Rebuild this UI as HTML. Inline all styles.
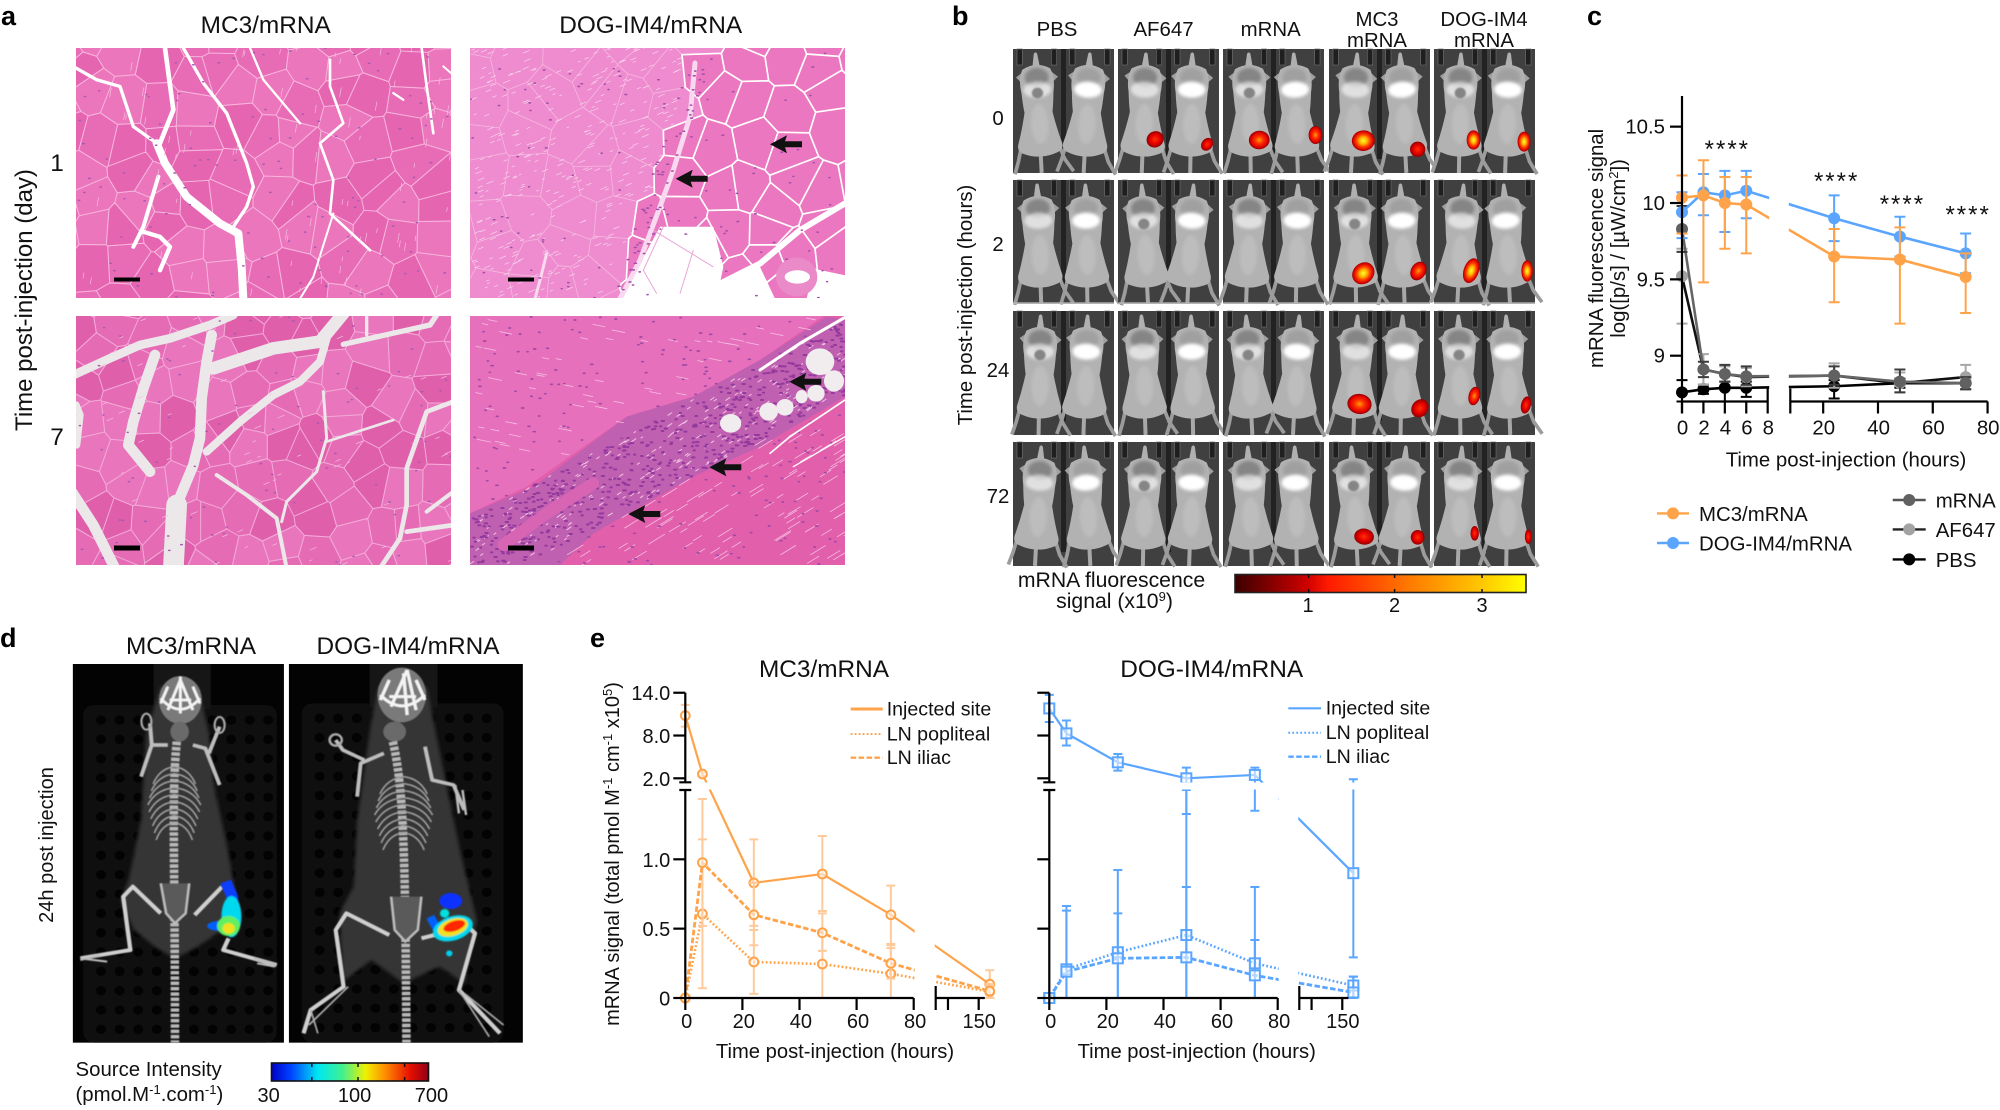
<!DOCTYPE html>
<html lang="en">
<head>
<meta charset="utf-8">
<title>mRNA expression figure</title>
<style>
html,body{margin:0;padding:0;background:#fff;}
svg{display:block;}
text{font-family:"Liberation Sans",Arial,sans-serif;fill:#111;}
.pl{font-size:27px;font-weight:700;fill:#000;}
.t24{font-size:24.4px;}
.t20{font-size:20.4px;}
.m{text-anchor:middle;}
.e{text-anchor:end;}
</style>
</head>
<body>
<svg id="fig" xmlns="http://www.w3.org/2000/svg" width="2000" height="1110" viewBox="0 0 2000 1110">
<defs>
<filter id="b1" x="-10%" y="-10%" width="120%" height="120%"><feGaussianBlur stdDeviation="1.2"/></filter>
<filter id="b2" x="-30%" y="-30%" width="160%" height="160%"><feGaussianBlur stdDeviation="2"/></filter>
<filter id="b4" x="-40%" y="-40%" width="180%" height="180%"><feGaussianBlur stdDeviation="5"/></filter>
<filter id="b8" x="-50%" y="-50%" width="200%" height="200%"><feGaussianBlur stdDeviation="10"/></filter>
<radialGradient id="hotY"><stop offset="0" stop-color="#ffff30"/><stop offset=".35" stop-color="#ffb000"/><stop offset=".62" stop-color="#ff3a00"/><stop offset=".9" stop-color="#d00000"/><stop offset="1" stop-color="#a00000"/></radialGradient>
<radialGradient id="hotO"><stop offset="0" stop-color="#ffa000"/><stop offset=".4" stop-color="#ff3000"/><stop offset=".8" stop-color="#e00000"/><stop offset="1" stop-color="#8a0000"/></radialGradient>
<radialGradient id="hotR"><stop offset="0" stop-color="#ff3000"/><stop offset=".55" stop-color="#e80000"/><stop offset="1" stop-color="#900000"/></radialGradient>
<linearGradient id="cbB"><stop offset="0" stop-color="#3a0000"/><stop offset=".25" stop-color="#d00000"/><stop offset=".32" stop-color="#ff1a00"/><stop offset=".6" stop-color="#ff7a00"/><stop offset=".85" stop-color="#ffc800"/><stop offset="1" stop-color="#ffff00"/></linearGradient>
<linearGradient id="cbD"><stop offset="0" stop-color="#0000c8"/><stop offset=".12" stop-color="#0040ff"/><stop offset=".3" stop-color="#00e8f0"/><stop offset=".45" stop-color="#40f090"/><stop offset=".6" stop-color="#f0f000"/><stop offset=".72" stop-color="#ff9000"/><stop offset=".88" stop-color="#e81000"/><stop offset="1" stop-color="#900018"/></linearGradient>
</defs>
<rect width="2000" height="1110" fill="#fff"/>

<!-- PANEL LETTERS -->
<text class="pl" x="1" y="25">a</text>
<text class="pl" x="952" y="25">b</text>
<text class="pl" x="1587" y="25">c</text>
<text class="pl" x="0" y="647">d</text>
<text class="pl" x="590" y="647">e</text>

<!-- PANEL A -->
<text class="t24 m" x="265.7" y="33">MC3/mRNA</text>
<text class="t24 m" x="650.7" y="33">DOG-IM4/mRNA</text>
<text class="t24 m" x="57" y="171">1</text>
<text class="t24 m" x="57" y="445">7</text>
<text class="m" font-size="24" transform="translate(32,300) rotate(-90)">Time post-injection (day)</text>

<svg id="t1" x="76" y="48" width="375" height="250" viewBox="228 145 1125 748" preserveAspectRatio="none"></svg>
<svg id="t2" x="76" y="316" width="375" height="249" viewBox="48 33 1125 747" preserveAspectRatio="none"></svg>
<svg id="t3" x="470" y="48" width="375" height="250" viewBox="30 145 1125 748" preserveAspectRatio="none"></svg>
<svg id="t4" x="470" y="316" width="375" height="249" viewBox="30 48 1125 747" preserveAspectRatio="none"></svg>
<g fill="#000">
<rect x="114" y="277.5" width="26" height="4"/>
<rect x="508" y="277.5" width="26" height="4"/>
<rect x="114" y="545.5" width="26" height="5"/>
<rect x="508" y="545.5" width="26" height="5"/>
</g>
<g id="arrows" fill="#111"></g>

<!-- PANEL B -->
<g id="bTiles"></g>
<g id="bBlobs" transform="translate(950,0) scale(.3827,.3333)"></g>
<g font-size="20.4" text-anchor="middle">
<text x="1057" y="36">PBS</text>
<text x="1163.5" y="36">AF647</text>
<text x="1270.7" y="36">mRNA</text>
<text x="1377" y="26">MC3</text>
<text x="1377" y="47">mRNA</text>
<text x="1484" y="26">DOG-IM4</text>
<text x="1484" y="47">mRNA</text>
</g>
<g font-size="20.4" text-anchor="middle">
<text x="998" y="125">0</text>
<text x="998" y="251">2</text>
<text x="998" y="377">24</text>
<text x="998" y="503">72</text>
</g>
<text class="m" font-size="20.4" transform="translate(972,305) rotate(-90)">Time post-injection (hours)</text>
<text class="m" font-size="21.2" x="1111.5" y="587">mRNA fluorescence</text>
<text class="m" font-size="21.2" x="1114.5" y="608">signal (x10<tspan font-size="13" dy="-7">9</tspan><tspan dy="7">)</tspan></text>
<rect x="1235" y="574.5" width="291" height="18" fill="url(#cbB)" stroke="#222" stroke-width="1.6"/>
<g stroke="#111" stroke-width="1.5">
<path d="M1308.6 574v4M1308.6 593v-4M1394.6 574v4M1394.6 593v-4M1482 574v4M1482 593v-4" fill="none"/>
</g>
<g font-size="20" text-anchor="middle">
<text x="1308" y="612">1</text>
<text x="1394.6" y="612">2</text>
<text x="1482" y="612">3</text>
</g>

<!-- PANEL C -->
<g id="chartC"></g>
<text class="m t20" transform="translate(1603,248.4) rotate(-90)">mRNA fluorescence signal</text>
<text class="m t20" transform="translate(1625,248.4) rotate(-90)">log([p/s] / [µW/cm<tspan font-size="13" dy="-7">2</tspan><tspan dy="7">])</tspan></text>
<text class="m t20" x="1846" y="466.5">Time post-injection (hours)</text>

<!-- PANEL D -->
<text class="m t24" x="191" y="654">MC3/mRNA</text>
<text class="m t24" x="408" y="654">DOG-IM4/mRNA</text>
<text class="m" font-size="20" transform="translate(53,845) rotate(-90)">24h post injection</text>
<g id="dImages" transform="translate(0,620) scale(.35714,.33333)"></g>
<text font-size="20.4" x="75.5" y="1076">Source Intensity</text>
<text font-size="20.4" x="75.5" y="1101">(pmol.M<tspan font-size="13" dy="-7">-1</tspan><tspan dy="7">.com</tspan><tspan font-size="13" dy="-7">-1</tspan><tspan dy="7">)</tspan></text>
<rect x="271.5" y="1063" width="157" height="18" fill="url(#cbD)" stroke="#111" stroke-width="1.6"/>
<path d="M311.8 1063v4M311.8 1081v-4M358 1063v4M358 1081v-4M404.6 1063v4M404.6 1081v-4" stroke="#111" stroke-width="1.5" fill="none"/>
<g font-size="20" text-anchor="middle">
<text x="268.6" y="1102">30</text>
<text x="354.6" y="1102">100</text>
<text x="431.4" y="1102">700</text>
</g>

<!-- PANEL E -->
<g id="chartE1"></g>
<g id="chartE2"></g>
<text class="m t24" x="824" y="677">MC3/mRNA</text>
<text class="m t24" x="1211.7" y="677">DOG-IM4/mRNA</text>
<text class="m" font-size="20" transform="translate(619,854) rotate(-90)">mRNA signal (total pmol M<tspan font-size="13" dy="-7">-1</tspan><tspan dy="7"> cm</tspan><tspan font-size="13" dy="-7">-1</tspan><tspan dy="7"> x10</tspan><tspan font-size="13" dy="-7">5</tspan><tspan dy="7">)</tspan></text>
<text class="m" font-size="20.2" x="835" y="1058">Time post-injection (hours)</text>
<text class="m" font-size="20.2" x="1196.7" y="1058">Time post-injection (hours)</text>
</svg>

<script>
/* ---------- PANEL C DATA ---------- */
const cHours = [0, 2, 4, 6, 24, 48, 72];
const cMC3 = [10.035, 10.05, 10.0, 9.99, 9.65, 9.63, 9.515];
const cMC3Up = [10.18, 10.28, 10.17, 10.17, 9.83, 9.84, 9.67];
const cMC3Lo = [9.80, 9.48, 9.70, 9.67, 9.35, 9.21, 9.28];
const cDOG = [9.94, 10.07, 10.05, 10.08, 9.90, 9.78, 9.67];
const cDOGUp = [10.07, 10.19, 10.21, 10.21, 10.05, 9.91, 9.80];
const cDOGLo = [9.77, 9.92, 9.81, 9.90, 9.75, 9.65, 9.54];
const cRNA = [9.83, 8.91, 8.88, 8.865, 8.87, 8.83, 8.82];
const cRNAUp = [9.98, 8.96, 8.94, 8.93, 8.93, 8.91, 8.86];
const cRNALo = [9.68, 8.86, 8.83, 8.81, 8.81, 8.76, 8.78];
const cAF = [9.52, 8.91, 8.88, 8.86, 8.87, 8.82, 8.86];
const cAFUp = [9.70, 9.01, 8.93, 8.92, 8.95, 8.89, 8.94];
const cAFLo = [9.21, 8.81, 8.83, 8.80, 8.79, 8.76, 8.78];
const cPBS = [8.76, 8.78, 8.79, 8.79, 8.80, 8.82, 8.82];
const cPBSUp = [8.84, 8.81, 8.83, 8.83, 8.84, 8.85, 8.86];
const cPBSLo = [8.70, 8.75, 8.70, 8.73, 8.72, 8.79, 8.78];
const cYTicks = [9, 9.5, 10, 10.5];
const cYLabels = ['9', '9.5', '10', '10.5'];
const cXLeftTicks = [0, 2, 4, 6, 8];
const cXRightTicks = [8, 20, 40, 60, 80];
const cXRightLabels = ['', '20', '40', '60', '80'];
const cStarHours = [4, 24, 48, 72];
const cStarValues = [10.38, 10.17, 10.02, 9.95];

/* ---------- PANEL E DATA ---------- */
const eHours = [0, 6, 24, 48, 72, 168];
const mcInjected = [10.8, 2.6, 0.83, 0.894, 0.60, 0.10];
const mcInjectedUp = [12.3, 2.85, 1.144, 1.168, 0.81, 0.20];
const mcInjectedLo = [9.24, 2.35, 0.52, 0.627, 0.39, 0.0];
const mcPopliteal = [0, 0.606, 0.26, 0.245, 0.175, 0.045];
const mcPoplitealUp = [0, 1.144, 0.49, 0.49, 0.38, 0.09];
const mcPoplitealLo = [0, 0.07, 0.03, 0, 0, 0];
const mcIliac = [0, 0.976, 0.60, 0.47, 0.25, 0.05];
const mcIliacUp = [0, 1.435, 0.83, 0.61, 0.36, 0.10];
const mcIliacLo = [0, 0.52, 0.38, 0.34, 0.14, 0];
const dogInjected = [11.8, 8.3, 4.24, 2.0, 2.47, 0.90];
const dogInjectedUp = [13.7, 10.1, 5.4, 3.5, 3.5, 1.86];
const dogInjectedLo = [9.9, 6.6, 3.07, 1.327, 1.35, 0.293];
const dogPopliteal = [0, 0.207, 0.33, 0.454, 0.25, 0.09];
const dogPoplitealUp = [0, 0.663, 0.923, 1.5, 0.80, 0.154];
const dogPoplitealLo = [0, 0, 0, 0, 0, 0];
const dogIliac = [0, 0.19, 0.286, 0.293, 0.163, 0.04];
const dogIliacUp = [0, 0.63, 0.61, 0.80, 0.418, 0.154];
const dogIliacLo = [0, 0, 0, 0, 0, 0];
const eYTicks = [14, 8, 2, 1, 0.5, 0];
const eYLabels = ['14.0', '8.0', '2.0', '1.0', '0.5', '0'];
const eXLeftTicks = [0, 20, 40, 60, 80];
const eXLeftLabels = ['0', '20', '40', '60', '80'];
const eXRightTicks = [80, 100, 150];
const eXRightLabels = ['', '', '150'];

/* ---------- helpers ---------- */
const NS = 'http://www.w3.org/2000/svg';
function mk(tag, attrs, parent) {
  const n = document.createElementNS(NS, tag);
  for (const k in attrs) n.setAttribute(k, attrs[k]);
  if (parent) parent.appendChild(n);
  return n;
}
let seed = 12345;
function rnd() { seed = (seed * 1664525 + 1013904223) % 4294967296; return seed / 4294967296; }

/* ---------- CHART C ---------- */
const cGroup = document.getElementById('chartC');
function cXl(h) { return 1682 + h * 10.71; }
function cXr(h) { return 1790.3 + (h - 8) * 2.74; }
function cX(h) { return h <= 8 ? cXl(h) : cXr(h); }
function cY(v) { return 355.7 - (v - 9) * 152.7; }

function drawCSeries(name, mean, up, lo, lineCol, barCol, dotCol) {
  const g = mk('g', {}, cGroup);
  
  
  const line = mk('polyline', { points: cHours.map((h, i) => cX(h) + ',' + cY(mean[i])).join(' '), fill: 'none', stroke: lineCol, 'stroke-width': 2.6 }, g);
  
  
  cHours.forEach((h, i) => {
    const x = cX(h);
    const bar = mk('path', { d: 'M' + x + ' ' + cY(up[i]) + 'V' + cY(lo[i]) + 'M' + (x - 5.5) + ' ' + cY(up[i]) + 'h11M' + (x - 5.5) + ' ' + cY(lo[i]) + 'h11', fill: 'none', stroke: barCol, 'stroke-width': 2 }, g);
    
    
  });
  cHours.forEach((h, i) => {
    const dot = mk('circle', { cx: cX(h), cy: cY(mean[i]), r: 6, fill: dotCol }, g);
    
    
  });
}
drawCSeries('pbs-series', cPBS, cPBSUp, cPBSLo, '#000', '#000', '#000');
drawCSeries('af647-series', cAF, cAFUp, cAFLo, '#111', '#a8a8a8', '#a3a3a3');
drawCSeries('mrna-series', cRNA, cRNAUp, cRNALo, '#666', '#3c3c3c', '#616161');
drawCSeries('dog-im4-series', cDOG, cDOGUp, cDOGLo, '#5aa5ff', '#5aa5ff', '#5aa5ff');
drawCSeries('mc3-series', cMC3, cMC3Up, cMC3Lo, '#ffa34a', '#ffa34a', '#ffa34a');

const cGap = mk('rect', { x: cXl(8) + 1.5, y: 90, width: cXr(8) - cXl(8) - 3, height: 320, fill: '#fff' }, cGroup);



const cAxisY = mk('path', { d: 'M' + cXl(0) + ' 96V' + (cY(8.7) + 12), stroke: '#000', 'stroke-width': 2.2, fill: 'none' }, cGroup);


const cAxisX1 = mk('path', { d: 'M' + cXl(0) + ' ' + cY(8.7) + 'H' + cXl(8), stroke: '#000', 'stroke-width': 2.2, fill: 'none' }, cGroup);


const cAxisX2 = mk('path', { d: 'M' + cXr(8) + ' ' + cY(8.7) + 'H' + cXr(80), stroke: '#000', 'stroke-width': 2.2, fill: 'none' }, cGroup);



cYTicks.forEach((v, i) => {
  const t = mk('path', { d: 'M' + (cXl(0) - 12) + ' ' + cY(v) + 'H' + cXl(0), stroke: '#000', 'stroke-width': 2.2 }, cGroup);
  
  
  const l = mk('text', { x: cXl(0) - 17, y: cY(v) + 7, 'text-anchor': 'end', 'font-size': 20.4 }, cGroup);
  l.textContent = cYLabels[i];
  
  
});
cXLeftTicks.forEach((h) => {
  const t = mk('path', { d: 'M' + cXl(h) + ' ' + (cY(8.7) - (h === 8 ? 13 : 0)) + 'V' + (cY(8.7) + 12), stroke: '#000', 'stroke-width': 2.2 }, cGroup);
  
  
  const l = mk('text', { x: cXl(h) + 0.6, y: 434.5, 'text-anchor': 'middle', 'font-size': 20.4 }, cGroup);
  l.textContent = String(h);
  
  
});
cXRightTicks.forEach((h, i) => {
  const t = mk('path', { d: 'M' + cXr(h) + ' ' + (cY(8.7) - (i === 0 ? 13 : 0)) + 'V' + (cY(8.7) + 12), stroke: '#000', 'stroke-width': 2.2 }, cGroup);
  
  
  const l = mk('text', { x: cXr(h) + 0.6, y: 434.5, 'text-anchor': 'middle', 'font-size': 20.4 }, cGroup);
  l.textContent = cXRightLabels[i];
  
  
});
cStarHours.forEach((h, i) => {
  const s = mk('text', { x: cX(h) + 2.5, y: cY(cStarValues[i]) + 12, 'text-anchor': 'middle', 'font-size': 24, 'letter-spacing': 2 }, cGroup);
  s.textContent = '****';
  
  
});

function cLegend(x1, x2, y, lineCol, dotCol, tx, label) {
  const g = mk('g', {}, cGroup);
  
  
  const l = mk('path', { d: 'M' + x1 + ' ' + y + 'H' + x2, stroke: lineCol, 'stroke-width': 2.4 }, g);
  
  
  const d = mk('circle', { cx: (x1 + x2) / 2, cy: y, r: 6, fill: dotCol }, g);
  
  
  const t = mk('text', { x: tx, y: y + 7.5, 'font-size': 20.4 }, g);
  t.textContent = label;
  
  
}
cLegend(1657, 1689, 513.4, '#ffa34a', '#ffa34a', 1699, 'MC3/mRNA');
cLegend(1657, 1689, 543, '#5aa5ff', '#5aa5ff', 1699, 'DOG-IM4/mRNA');
cLegend(1892.7, 1925.7, 500, '#555', '#616161', 1935.7, 'mRNA');
cLegend(1892.7, 1925.7, 529.4, '#222', '#a3a3a3', 1935.7, 'AF647');
cLegend(1892.7, 1925.7, 559.4, '#000', '#000', 1935.7, 'PBS');

/* ---------- CHART E ---------- */
function eY(v) { return v >= 1.6 ? 778.3 - (v - 2) * 7.13 : 998 - v * 138.7; }
const DOT = '1.8 2.2';
const DASH = '5.5 2.4';

function drawE(groupId, x0, xb, seriesList, color, barColor, square, tickLabelsOn, lx1, lx2, ltx, legendYs) {
  const G = document.getElementById(groupId);
  const xl = (h) => x0 + h * 2.855;
  const xr = (h) => xb + (h - 80) * 0.614;
  const xf = (h) => (h <= 80 ? xl(h) : xr(h));
  seriesList.forEach((s) => {
    const g = mk('g', {}, G);
    
    
    eHours.forEach((h, i) => {
      const x = xf(h);
      const bar = mk('path', { d: 'M' + x + ' ' + eY(s.up[i]) + 'V' + eY(s.lo[i]) + 'M' + (x - 4.5) + ' ' + eY(s.up[i]) + 'h9M' + (x - 4.5) + ' ' + eY(s.lo[i]) + 'h9', fill: 'none', stroke: barColor, 'stroke-width': 2 }, g);
      
      
    });
    const attrs = { points: eHours.map((h, i) => xf(h) + ',' + eY(s.mean[i])).join(' '), fill: 'none', stroke: color, 'stroke-width': s.w };
    if (s.dash) attrs['stroke-dasharray'] = s.dash;
    const line = mk('polyline', attrs, g);
    
    
    eHours.forEach((h, i) => {
      const x = xf(h), y = eY(s.mean[i]);
      const m = square
        ? mk('rect', { x: x - 5, y: y - 5, width: 10, height: 10, fill: '#fff', 'fill-opacity': 0.55, stroke: color, 'stroke-width': 2 }, g)
        : mk('circle', { cx: x, cy: y, r: 4.4, fill: '#fff', 'fill-opacity': 0.55, stroke: color, 'stroke-width': 2 }, g);
      
      
    });
  });
  const band = mk('rect', { x: x0 - 3, y: 782.5, width: 320, height: 7, fill: '#fff' }, G);
  
  
  const gap = mk('rect', { x: xl(80) + 1, y: 690, width: xb - xl(80) - 2, height: 305, fill: '#fff' }, G);
  
  
  const notch = mk('rect', { x: xl(80) - 14, y: 782.5, width: 15, height: 17, fill: '#fff' }, G);
  
  

  const axes = 'M' + x0 + ' 692.7V782.3M' + (x0 - 6) + ' 782.3h12M' + (x0 - 6) + ' 790h12M' + x0 + ' 790V998M' + x0 + ' 998H' + xl(80) + 'M' + xb + ' 998H' + xr(160);
  const ax = mk('path', { d: axes, fill: 'none', stroke: '#000', 'stroke-width': 2.2 }, G);
  
  

  eYTicks.forEach((v, i) => {
    const t = mk('path', { d: 'M' + (x0 - 12) + ' ' + eY(v) + 'H' + x0, stroke: '#000', 'stroke-width': 2.2 }, G);
    
    
    if (tickLabelsOn) {
      const l = mk('text', { x: x0 - 15, y: eY(v) + 7.5, 'text-anchor': 'end', 'font-size': 20 }, G);
      l.textContent = eYLabels[i];
      
      
    }
  });
  eXLeftTicks.forEach((h, i) => {
    const t = mk('path', { d: 'M' + xl(h) + ' 998V1010', stroke: '#000', 'stroke-width': 2.2 }, G);
    
    
    const l = mk('text', { x: xl(h) + 1.4, y: 1028, 'text-anchor': 'middle', 'font-size': 20 }, G);
    l.textContent = eXLeftLabels[i];
    
    
  });
  eXRightTicks.forEach((h, i) => {
    const t = mk('path', { d: 'M' + xr(h) + ' ' + (i === 0 ? 986 : 998) + 'V1010', stroke: '#000', 'stroke-width': 2.2 }, G);
    
    
    const l = mk('text', { x: xr(h) + 0.5, y: 1028, 'text-anchor': 'middle', 'font-size': 20 }, G);
    l.textContent = eXRightLabels[i];
    
    
  });
  seriesList.forEach((s, i) => {
    const a = { d: 'M' + lx1 + ' ' + legendYs[i] + 'H' + lx2, stroke: color, 'stroke-width': s.lw, fill: 'none' };
    if (s.dash) a['stroke-dasharray'] = s.dash;
    const k = mk('path', a, G);
    
    
    const t = mk('text', { x: ltx, y: legendYs[i] + 6.3, 'font-size': 19.6 }, G);
    t.textContent = s.label;
    
    
  });
}
drawE('chartE1', 685.3, 935.7, [
  { name: 'mc3-injected-series', label: 'Injected site', mean: mcInjected, up: mcInjectedUp, lo: mcInjectedLo, w: 2.2, lw: 3 },
  { name: 'mc3-popliteal-series', label: 'LN popliteal', mean: mcPopliteal, up: mcPoplitealUp, lo: mcPoplitealLo, w: 2.6, lw: 2, dash: DOT },
  { name: 'mc3-iliac-series', label: 'LN iliac', mean: mcIliac, up: mcIliacUp, lo: mcIliacLo, w: 2.8, lw: 2.4, dash: DASH }
], '#ffa34a', '#ffca9b', false, true, 850.7, 882.7, 886.7, [709, 734, 757.7]);
drawE('chartE2', 1049.3, 1299.3, [
  { name: 'dog-injected-series', label: 'Injected site', mean: dogInjected, up: dogInjectedUp, lo: dogInjectedLo, w: 2.2, lw: 2.2 },
  { name: 'dog-popliteal-series', label: 'LN popliteal', mean: dogPopliteal, up: dogPoplitealUp, lo: dogPoplitealLo, w: 2.6, lw: 2, dash: DOT },
  { name: 'dog-iliac-series', label: 'LN iliac', mean: dogIliac, up: dogIliacUp, lo: dogIliacLo, w: 2.8, lw: 2.4, dash: DASH }
], '#5aa5ff', '#5aa5ff', true, false, 1288.3, 1321, 1325.7, [708.3, 732.7, 756.7]);

/* ---------- PANEL A: tissue textures ---------- */
function voronoi(x0, y0, w, h, step) {
  const pts = [];
  for (let y = y0 - step; y < y0 + h + step; y += step) {
    for (let x = x0 - step; x < x0 + w + step; x += step) {
      pts.push([x + rnd() * step * 0.85, y + rnd() * step * 0.85]);
    }
  }
  const out = [];
  pts.forEach((p, i) => {
    let poly = [[p[0] - 3 * step, p[1] - 3 * step], [p[0] + 3 * step, p[1] - 3 * step], [p[0] + 3 * step, p[1] + 3 * step], [p[0] - 3 * step, p[1] + 3 * step]];
    pts.forEach((q, j) => {
      if (i === j) return;
      const dx = q[0] - p[0], dy = q[1] - p[1];
      const d2 = dx * dx + dy * dy;
      if (d2 > 36 * step * step) return;
      const mx = (p[0] + q[0]) / 2, my = (p[1] + q[1]) / 2;
      const np = [];
      for (let k = 0; k < poly.length; k++) {
        const a = poly[k], b = poly[(k + 1) % poly.length];
        const da = (a[0] - mx) * dx + (a[1] - my) * dy;
        const db = (b[0] - mx) * dx + (b[1] - my) * dy;
        if (da <= 0) np.push(a);
        if ((da < 0 && db > 0) || (da > 0 && db < 0)) {
          const t = da / (da - db);
          np.push([a[0] + (b[0] - a[0]) * t, a[1] + (b[1] - a[1]) * t]);
        }
      }
      poly = np;
    });
    if (poly.length > 2) out.push({ c: p, poly: poly });
  });
  return out;
}
function polyD(poly) { return 'M' + poly.map((q) => q[0].toFixed(0) + ' ' + q[1].toFixed(0)).join('L') + 'Z'; }
function addPath(svg, d, fill, stroke, sw, name, op) {
  const a = { d: d, fill: fill, stroke: stroke, 'stroke-width': sw, 'stroke-linejoin': 'round', 'stroke-linecap': 'round' };
  if (op) a.opacity = op;
  return mk('path', a, svg);
}
function fiberShades(svg, cells, colors, stroke, sw) {
  const ds = colors.map(() => '');
  cells.forEach((c) => { const k = Math.floor(rnd() * colors.length); ds[k] += polyD(c.poly); });
  colors.forEach((col, k) => {
    const f = addPath(svg, ds[k], col, stroke, sw);
    
    
  });
}
function gaps(svg, list, color, name) {
  list.forEach((g) => {
    const el = addPath(svg, 'M' + g[1].map((v, i) => (i % 2 ? v : (i ? 'L' : '') + v)).join(' '), 'none', color, g[0]);
    
    
  });
}
function dots(x0, y0, w, h, n, r, test) {
  let d = '';
  for (let i = 0; i < n; i++) {
    const x = x0 + rnd() * w, y = y0 + rnd() * h;
    if (test && !test(x, y)) continue;
    const rr = r * (0.6 + rnd() * 0.7);
    d += 'M' + x.toFixed(0) + ' ' + y.toFixed(0) + 'h' + rr.toFixed(1);
  }
  return d;
}
function streaks(x0, y0, w, h, n, len, ang, test) {
  let d = '';
  for (let i = 0; i < n; i++) {
    const x = x0 + rnd() * w, y = y0 + rnd() * h;
    if (test && !test(x, y)) continue;
    const l = len * (0.5 + rnd());
    d += 'M' + x.toFixed(0) + ' ' + y.toFixed(0) + 'l' + (Math.cos(ang) * l).toFixed(1) + ' ' + (Math.sin(ang) * l).toFixed(1);
  }
  return d;
}

/* MC3 day 1 */
(function () {
  const s = document.getElementById('t1');
  const bg = mk('rect', { x: 228, y: 145, width: 1125, height: 748, fill: '#e96db6' }, s);
  
  
  fiberShades(s, voronoi(228, 145, 1125, 748, 105), ['#e86bb5', '#ec76bc', '#e565b0'], '#f7b5dd', 3);
  gaps(s, [
    [10, [228, 205, 290, 240, 360, 260, 400, 380, 470, 430]],
    [24, [470, 430, 495, 490, 560, 590, 660, 670, 715, 700]],
    [24, [715, 700, 725, 800, 730, 895]],
    [14, [495, 145, 520, 330, 480, 430]],
    [12, [475, 530, 430, 680, 400, 740]],
    [13, [430, 695, 480, 710, 510, 740, 480, 810]],
    [10, [550, 145, 610, 250, 680, 340, 740, 490, 760, 560, 740, 620, 700, 680]],
    [7, [750, 145, 790, 240, 900, 370]],
    [8, [990, 180, 990, 260, 1030, 370, 960, 430, 1000, 540, 990, 640, 1110, 750]],
    [8, [1265, 145, 1280, 260, 1300, 400]],
    [6, [1000, 640, 940, 830, 900, 895]],
    [6, [1330, 200, 1353, 220]],
    [7, [1180, 280, 1210, 300]]
  ], '#ffffff', 'muscle-fiber-gap');
  const st = addPath(s, streaks(228, 145, 1125, 748, 70, 20, -1.4), 'none', '#f6bfe0', 2);
  
  
  const nu = addPath(s, dots(228, 145, 1125, 748, 110, 4), 'none', '#a65ab0', 4.5);
  
  
})();

/* MC3 day 7 */
(function () {
  const s = document.getElementById('t2');
  const bg = mk('rect', { x: 48, y: 33, width: 1125, height: 747, fill: '#e56bb5' }, s);
  
  
  fiberShades(s, voronoi(48, 33, 1125, 747, 95), ['#e56bb5', '#e976bc', '#df5fab'], '#f3aad8', 3);
  gaps(s, [
    [26, [30, 215, 150, 160, 240, 120, 330, 100, 450, 60, 520, 30]],
    [32, [285, 150, 250, 250, 220, 350, 205, 420, 270, 500]],
    [32, [455, 90, 440, 170, 425, 280, 420, 400, 400, 480, 350, 600]],
    [62, [350, 600, 340, 790]],
    [38, [850, 25, 780, 110, 640, 130, 460, 190]],
    [24, [800, 100, 780, 170, 720, 230, 640, 270, 540, 350, 440, 440]],
    [12, [470, 510, 560, 570, 650, 640, 680, 790]],
    [32, [35, 560, 100, 660, 170, 800]],
    [16, [850, 118, 1110, 60, 1130, 30]],
    [9, [790, 260, 800, 400, 770, 500, 680, 590, 665, 650]],
    [8, [1000, 345, 800, 410]],
    [14, [1180, 290, 1100, 320, 1040, 490, 1040, 600, 1020, 700, 960, 790]],
    [22, [48, 300, 60, 330, 50, 420]],
    [10, [920, 30, 920, 90]],
    [14, [1040, 680, 1180, 660]],
    [12, [1100, 620, 1180, 560]]
  ], '#ece8ea', 'muscle-fiber-gap');
  const st = addPath(s, streaks(48, 33, 1125, 747, 60, 14, -.4), 'none', '#f3c2e2', 2);
  
  
  const nu = addPath(s, dots(48, 33, 1125, 747, 80, 4), 'none', '#a65ab0', 4.5);
  
  
})();

/* DOG-IM4 day 1 */
(function () {
  const s = document.getElementById('t3');
  const divX = (y) => 720 - (y - 190) * 0.343;
  const bg = mk('rect', { x: 30, y: 145, width: 1125, height: 748, fill: '#f08fd0' }, s);
  
  
  let pale = '', deep = '';
  voronoi(30, 145, 1125, 748, 115).forEach((c) => {
    if (c.c[0] > divX(c.c[1])) deep += polyD(c.poly);
    else pale += polyD(c.poly);
  });
  const p = addPath(s, pale, '#ee8ccf', '#f5b8df', 2.4);
  
  
  const w = addPath(s, streaks(30, 145, 700, 748, 420, 14, -0.4, (x, y) => x < divX(y) - 15), 'none', '#f9d8ee', 2);
  
  
  const q = addPath(s, deep, '#eb77c0', '#fff', 5);
  
  
  const wh = mk('path', { d: 'M770 855L900 800L945 895H770ZM1060 805L1155 825V895H1040ZM480 895L540 790L600 680H760L790 800L770 895Z', fill: '#fff' }, s);
  
  
  gaps(s, [[18, [1155, 610, 1020, 690, 900, 790, 770, 855]]], '#fff', 'connective-tissue-strip');
  gaps(s, [[15, [705, 190, 690, 350, 640, 510, 600, 620, 540, 780, 480, 895]], [9, [260, 760, 240, 840, 225, 895]]], '#f9d9ef', 'connective-tissue-band');
  const fp = mk('path', { d: 'M580 690L760 800M610 680L550 810L590 880M700 750L660 880', stroke: '#e9a7d6', 'stroke-width': 3, fill: 'none' }, s);
  
  
  const ves = mk('ellipse', { cx: 1010, cy: 830, rx: 62, ry: 58, fill: '#ea8ac8' }, s);
  
  
  const ves2 = mk('ellipse', { cx: 1012, cy: 830, rx: 38, ry: 20, fill: '#fff' }, s);
  
  
  const nu = addPath(s, dots(30, 145, 1125, 748, 100, 4) + dots(450, 190, 350, 700, 300, 5, (x, y) => Math.abs(x - divX(y)) < 32), 'none', '#a04fa8', 4.5);
  
  
})();

/* DOG-IM4 day 7 */
(function () {
  const s = document.getElementById('t4');
  const bg = mk('rect', { x: 30, y: 48, width: 1125, height: 747, fill: '#e25fac' }, s);
  
  
  const up = mk('path', { d: 'M30 48H1090L900 180L700 290L500 350L200 560L30 640Z', fill: '#e770bd' }, s);
  
  
  const band = mk('path', { d: 'M30 640L220 560L500 350L700 290L900 180L1100 50L1155 60V290L900 440L700 530L400 700L300 795H30Z', fill: '#c060b0' }, s);
  
  
  const inBand = (x, y) => { const a = 640 - (x - 30) * 0.53; return y > a + 15 && y < a + 240; };
  const inUp = (x, y) => y < 620 - (x - 30) * 0.53;
  const w = addPath(s, streaks(30, 48, 1125, 747, 900, 10, -0.6, inBand), 'none', '#efc4e4', 3);
  
  
  const k = addPath(s, dots(30, 48, 1125, 747, 2000, 6, inBand), 'none', '#943a9e', 6);
  
  
  gaps(s, [[36, [130, 735, 260, 640, 400, 550]]], '#d865b4', 'muscle-strip-in-infiltrate');
  const u = addPath(s, streaks(30, 48, 1125, 747, 170, 28, 0.2, inUp), 'none', '#f4c0e2', 2.4);
  
  
  const l = addPath(s, streaks(300, 400, 855, 395, 150, 38, -0.55, (x, y) => y > 880 - (x - 30) * 0.53), 'none', '#f6c4e2', 2.2);
  
  
  const n2 = addPath(s, dots(30, 48, 1125, 747, 260, 5, (x, y) => !inBand(x, y)), 'none', '#a04aa5', 5);
  
  
  gaps(s, [[9, [1155, 52, 1020, 130, 900, 210]], [5, [1155, 300, 990, 410, 930, 460]], [4, [1155, 410, 1000, 500]]], '#fff', 'tissue-crack');
  [[812, 370, 32, 28], [926, 335, 28, 27], [975, 322, 26, 25], [1080, 185, 43, 40], [1122, 243, 30, 32], [1068, 280, 26, 25], [1025, 290, 18, 20]].forEach((c) => {
    const e = mk('ellipse', { cx: c[0], cy: c[1], rx: c[2], ry: c[3], fill: '#f1edef' }, s);
    
    
  });
})();

/* arrows */
(function () {
  const g = document.getElementById('arrows');
  [[770, 144.3], [675.7, 178.7], [789.3, 381.7], [709.3, 467.3], [628.3, 514]].forEach((a) => {
    const x = a[0], y = a[1];
    const p = mk('polygon', { points: [[x, y], [x + 17, y - 9], [x + 15, y - 3], [x + 32, y - 3], [x + 32, y + 3], [x + 15, y + 3], [x + 17, y + 9]].map((q) => q.join(',')).join(' ') }, g);
    
    
  });
})();

/* ---------- PANEL B: mouse tiles ---------- */
function mouseMarkup(c, bright, head, rot, centre) {
  let h = '<g transform="rotate(' + rot + ' ' + c + ' 180)">';
  h += '<path d="M' + (c - 11) + ' 52L' + (c - 5) + ' 14Q' + c + ' 6 ' + (c + 5) + ' 14L' + (c + 11) + ' 52Z" fill="#b0b0b0"/>';
  h += '<path d="M' + (c - 45) + ' 70L' + (c - 62) + ' 82L' + (c - 46) + ' 100ZM' + (c + 45) + ' 70L' + (c + 64) + ' 86L' + (c + 46) + ' 102Z" fill="#a0a0a0"/>';
  h += '<path d="M' + (c - 58) + ' 296L' + (c - 68) + ' 335L' + (c - 80) + ' 372M' + (c + 58) + ' 296L' + (c + 72) + ' 335L' + (c + 96) + ' 372" stroke="#9c9c9c" stroke-width="11" fill="none"/>';
  h += '<path d="M' + c + ' 315V372" stroke="#a8a8a8" stroke-width="12" fill="none"/>';
  h += '<path d="M' + (c - 42) + ' 60Q' + (c - 56) + ' 90 ' + (c - 48) + ' 130Q' + (c - 46) + ' 165 ' + (c - 42) + ' 190Q' + (c - 52) + ' 240 ' + (c - 66) + ' 285Q' + (c - 70) + ' 305 ' + (c - 52) + ' 312Q' + (c - 20) + ' 325 ' + c + ' 322Q' + (c + 20) + ' 325 ' + (c + 52) + ' 312Q' + (c + 70) + ' 305 ' + (c + 66) + ' 285Q' + (c + 52) + ' 240 ' + (c + 42) + ' 190Q' + (c + 46) + ' 165 ' + (c + 48) + ' 130Q' + (c + 56) + ' 90 ' + (c + 42) + ' 60Q' + c + ' 35 ' + (c - 42) + ' 60Z" fill="#b2b2b2"/>';
  h += '<ellipse cx="' + c + '" cy="85" rx="36" ry="28" fill="' + head + '" filter="url(#b4)"/>';
  h += '<ellipse cx="' + c + '" cy="122" rx="42" ry="24" fill="#fff" opacity="' + bright + '" filter="url(#b4)"/>';
  if (centre) h += '<ellipse cx="' + c + '" cy="132" rx="17" ry="16" fill="#858585" filter="url(#b2)"/>';
  h += '<ellipse cx="' + (c + 2) + '" cy="225" rx="26" ry="60" fill="#c8c8c8" opacity=".5" filter="url(#b4)"/>';
  return h + '</g>';
}
(function () {
  const G = document.getElementById('bTiles');
  const xs = [1013, 1118, 1223, 1329, 1434];
  const ys = [49, 180, 311, 442];
  const rots = [-3, 2, -1, 3, 1, -2];
  ys.forEach((y, r) => xs.forEach((x, c) => {
    const t = mk('g', { transform: 'translate(' + x + ',' + y + ') scale(.3333)' }, G);
    
    
    let h = '<rect width="303" height="372" fill="#404040"/><rect x="144" y="0" width="15" height="330" fill="#222"/>';
    [12, 115, 170, 275].forEach((sx) => { h += '<rect x="' + sx + '" y="0" width="16" height="48" fill="#1f1f1f" stroke="#6a6a6a" stroke-width="2"/>'; });
    const dx = ((r + c) % 3) * 2;
    h += mouseMarkup(76 + dx, 0.6, '#858585', rots[(r * 5 + c) % 6], (c + r) % 2 === 0);
    h += mouseMarkup(222 - dx, 1, '#a0a0a0', rots[(r * 5 + c + 3) % 6], false);
    if (r === 1) h += '<rect x="0" y="367" width="303" height="5" fill="#b5b5b5"/>';
    t.innerHTML = h;
  }));
  const blobs = [
    [536, 418, 22, 25, 20, 'hotR'], [672, 433, 15, 20, 25, 'hotR'], [808, 420, 27, 28, 20, 'hotO'], [955, 405, 18, 27, 0, 'hotO'],
    [1080, 422, 30, 31, 15, 'hotY'], [1222, 448, 20, 23, 0, 'hotR'], [1368, 420, 18, 29, 0, 'hotY'], [1500, 425, 17, 30, 0, 'hotY'],
    [1080, 820, 28, 34, 25, 'hotY'], [1224, 813, 20, 29, 20, 'hotO'], [1362, 812, 20, 38, 15, 'hotY'], [1508, 813, 15, 32, 0, 'hotY'],
    [1070, 1212, 32, 30, 25, 'hotO'], [1228, 1225, 22, 28, 20, 'hotR'], [1370, 1188, 15, 28, 10, 'hotO'], [1505, 1215, 13, 26, 10, 'hotR'],
    [1082, 1610, 26, 24, 20, 'hotR'], [1222, 1612, 18, 22, 0, 'hotR'], [1371, 1600, 11, 22, 0, 'hotR'], [1511, 1610, 9, 22, 0, 'hotR']
  ];
  const B = document.getElementById('bBlobs');
  blobs.forEach((b) => {
    const e = mk('ellipse', { cx: b[0], cy: b[1], rx: b[2] * 1.0, ry: b[3], fill: 'url(#' + b[5] + ')', transform: 'rotate(' + b[4] + ' ' + b[0] + ' ' + b[1] + ')' }, B);
    
    
  });
})();

/* ---------- PANEL D: skeleton images ---------- */
(function () {
  const G = document.getElementById('dImages');
  function plate(x, w, px, pw, py, bx, bw, name) {
    const g = mk('g', {}, G);
    
    
    let h = '<rect x="' + x + '" y="132" width="' + w + '" height="1136" fill="#030303"/>';
    h += '<rect x="' + px + '" y="' + py + '" width="' + pw + '" height="' + (1268 - py) + '" rx="30" fill="#0f0f0f"/>';
    h += '<rect x="' + bx + '" y="132" width="' + bw + '" height="' + (py - 120) + '" fill="#161616"/>';
    for (let yy = py + 45; yy < 1260; yy += 58) for (let xx = px + 50; xx < px + pw - 20; xx += 52) {
      h += '<circle cx="' + xx + '" cy="' + yy + '" r="14" fill="#030303"/>';
    }
    g.innerHTML = h;
    return g;
  }
  plate(204, 591, 233, 542, 255, 430, 160, 'skeleton-image-mc3');
  plate(809, 655, 845, 565, 250, 1035, 190, 'skeleton-image-dog-im4');
  function ribs(cx, y0, n, dy, w0) {
    let d = '';
    for (let i = 0; i < n; i++) {
      const y = y0 + i * dy, w = w0 - Math.abs(i - n * 0.35) * 5;
      d += 'M' + cx + ' ' + y + 'Q' + (cx - w * 0.7) + ' ' + (y + 6) + ' ' + (cx - w) + ' ' + (y + 52) + 'M' + cx + ' ' + y + 'Q' + (cx + w * 0.7) + ' ' + (y + 6) + ' ' + (cx + w) + ' ' + (y + 52);
    }
    return d;
  }
  const g1 = mk('g', {}, G);
  
  
  g1.innerHTML =
    '<path d="M450 200L410 340L395 600L360 780L338 840L375 930L440 985L490 1015L545 985L610 940L668 880L640 700L600 500L585 340L555 200Z" fill="#343434" filter="url(#b4)"/>' +
    '<g filter="url(#b1)"><ellipse cx="505" cy="240" rx="60" ry="72" fill="#7a7a7a"/>' +
    '<path d="M505 180L470 270M505 180L540 270M475 240L535 240M450 235Q505 300 560 235M505 170L505 280M470 200L450 250M540 200L560 250" stroke="#f4f4f4" stroke-width="8" fill="none"/>' +
    '<ellipse cx="503" cy="335" rx="26" ry="30" fill="#6a6a6a"/>' +
    '<path d="M495 365C480 520 490 700 490 1268" stroke="#b8b8b8" stroke-width="24" stroke-dasharray="11 5" fill="none"/>' +
    '<path d="' + ribs(488, 440, 9, 21, 75) + '" stroke="#a0a0a0" stroke-width="4.5" fill="none"/>' +
    '<path d="M470 375L425 375L395 470M425 375L420 310M540 375L575 385L615 495M585 400L615 320" stroke="#bdbdbd" stroke-width="11" fill="none" stroke-linejoin="round"/>' +
    '<ellipse cx="410" cy="305" rx="14" ry="24" fill="none" stroke="#aaa" stroke-width="6"/><ellipse cx="615" cy="315" rx="14" ry="24" fill="none" stroke="#aaa" stroke-width="6"/>' +
    '<path d="M450 790L465 880L490 910L520 880L530 790" fill="#5a5a5a" stroke="#bbb" stroke-width="7"/>' +
    '<path d="M450 880L372 800L345 830L365 990L225 1015M545 885L622 800M640 955L625 990L775 1035" stroke="#cfcfcf" stroke-width="12" fill="none" stroke-linejoin="round"/>' +
    '<path d="M225 1015L300 1025M225 1020L280 1005M775 1035L710 1015M770 1040L720 1030" stroke="#bbb" stroke-width="6" fill="none"/></g>' +
    '<g filter="url(#b2)"><path d="M632 785L650 830L655 900" stroke="#0a3cff" stroke-width="32" fill="none"/><ellipse cx="622" cy="918" rx="42" ry="16" fill="#0060ff"/><ellipse cx="648" cy="890" rx="28" ry="62" fill="#00d8f0"/><ellipse cx="640" cy="918" rx="32" ry="30" fill="#60f060"/><ellipse cx="640" cy="925" rx="17" ry="16" fill="#f0e020"/></g>';
  const g2 = mk('g', {}, G);
  
  
  g2.innerHTML =
    '<path d="M1060 200L1040 300L1000 600L990 800L950 880L960 1085L1040 1020L1130 1090L1230 1040L1300 1090L1335 900L1290 700L1232 400L1195 200Z" fill="#343434" filter="url(#b4)"/>' +
    '<g filter="url(#b1)"><ellipse cx="1125" cy="225" rx="68" ry="82" fill="#7a7a7a"/>' +
    '<path d="M1140 150L1095 260M1140 150L1165 270M1090 230L1165 230M1065 225Q1125 290 1190 225M1130 160L1140 285M1090 180L1065 240M1165 180L1190 240" stroke="#f4f4f4" stroke-width="9" fill="none"/>' +
    '<ellipse cx="1105" cy="335" rx="32" ry="30" fill="#6a6a6a"/>' +
    '<path d="M1100 365C1130 500 1135 700 1138 1268" stroke="#b8b8b8" stroke-width="24" stroke-dasharray="11 5" fill="none"/>' +
    '<path d="' + ribs(1130, 470, 9, 21, 82) + '" stroke="#a0a0a0" stroke-width="4.5" fill="none"/>' +
    '<path d="M1075 400L1010 430L1000 530M1020 420L960 390L940 360M1190 380L1210 480L1270 495L1300 570" stroke="#bdbdbd" stroke-width="11" fill="none" stroke-linejoin="round"/>' +
    '<circle cx="940" cy="360" r="17" fill="none" stroke="#aaa" stroke-width="7"/><path d="M1275 495L1285 580M1295 510L1305 585" stroke="#bbb" stroke-width="7"/>' +
    '<path d="M1095 830L1105 930L1135 965L1170 930L1180 830" fill="#5a5a5a" stroke="#bbb" stroke-width="7"/>' +
    '<path d="M1090 945L970 880L940 930L962 1100L870 1170L850 1240M1180 955L1310 920L1330 940L1285 1110L1400 1240" stroke="#cfcfcf" stroke-width="12" fill="none" stroke-linejoin="round"/>' +
    '<path d="M870 1170L890 1240M975 1100L865 1215M1285 1110L1370 1250M1300 1120L1410 1215" stroke="#aaa" stroke-width="5" fill="none"/></g>' +
    '<g filter="url(#b2)"><ellipse cx="1262" cy="843" rx="32" ry="24" fill="#0a30ff"/><path d="M1205 890L1225 930" stroke="#0060ff" stroke-width="24"/><circle cx="1245" cy="880" r="13" fill="#00e0e0"/><circle cx="1258" cy="1000" r="9" fill="#00d0f0"/><ellipse cx="1268" cy="925" rx="58" ry="36" fill="#00d8f0" transform="rotate(-20 1268 925)"/><ellipse cx="1268" cy="922" rx="44" ry="25" fill="#f0e020" transform="rotate(-20 1268 922)"/><ellipse cx="1272" cy="918" rx="32" ry="15" fill="#ff2800" transform="rotate(-20 1272 918)"/></g>';
})();
</script>
</body>
</html>
